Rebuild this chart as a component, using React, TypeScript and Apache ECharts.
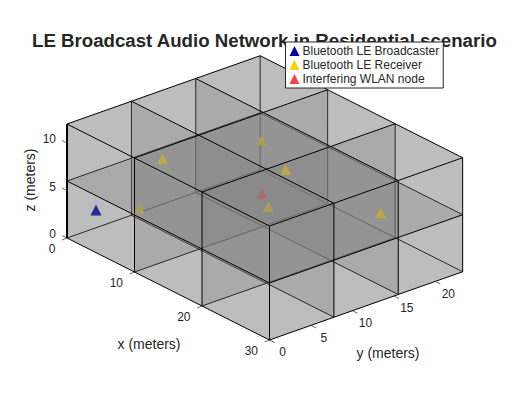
import React, { useEffect, useRef } from "react";
import * as echarts from "echarts";

const titleText = "LE Broadcast Audio Network in Residential scenario";
const legendNames = ["Bluetooth LE Broadcaster", "Bluetooth LE Receiver", "Interfering WLAN node"];
// building grid, metres
const xWalls = [0, 10, 20, 30];
const yWalls = [0, 7.77, 15.53, 23.3];
const zFloors = [0, 6, 12];
const xTicks = [0, 10, 20, 30];
const yTicks = [0, 5, 10, 15, 20];
const zTicks = [0, 5, 10];
// nodes [x, y, z], metres
const broadcasters = [[2, 1.87, 3.09]];
const receivers = [
  [5.24, 7.28, 8],
  [4.3, 5.26, 3],
  [8.1, 16.9, 8],
  [14.6, 14.5, 8],
  [18.4, 9.3, 7],
  [26.3, 16.4, 7],
];
const wlanNodes = [[17.3, 9.44, 8]];

const BLUE = [0, 0, 170];
const YELLOW = [255, 208, 0];
const RED = [255, 64, 64];
const FACE_GRAY = 130;
const FACE_ALPHA = 0.31;

type P3 = number[];
const project = (p: P3) => [
  67 + 6.75 * p[0] + 8.29 * p[1],
  238 + 3.4 * p[0] - 2.93 * p[1] - 9.5 * p[2],
];

// faces in back-to-front order
function buildFaces(): P3[][] {
  const seen = new Set<string>();
  const out: P3[][] = [];
  const add = (f: P3[]) => {
    const k = JSON.stringify(f);
    if (!seen.has(k)) {
      seen.add(k);
      out.push(f);
    }
  };
  for (let i = 0; i < 3; i++) {
    for (let j = 2; j >= 0; j--) {
      for (let k = 0; k < 2; k++) {
        const x0 = xWalls[i], x1 = xWalls[i + 1];
        const y0 = yWalls[j], y1 = yWalls[j + 1];
        const z0 = zFloors[k], z1 = zFloors[k + 1];
        const xFace = (x: number) => [[x, y0, z0], [x, y1, z0], [x, y1, z1], [x, y0, z1]];
        const yFace = (y: number) => [[x0, y, z0], [x1, y, z0], [x1, y, z1], [x0, y, z1]];
        const zFace = (z: number) => [[x0, y0, z], [x1, y0, z], [x1, y1, z], [x0, y1, z]];
        add(xFace(x0));
        add(yFace(y1));
        add(zFace(z0));
        add(xFace(x1));
        add(yFace(y0));
        add(zFace(z1));
      }
    }
  }
  return out;
}

// only edges on the building's outer shell are inked, once, with the last face holding them
const onShell = (a: P3, b: P3) => {
  const lims = [
    [xWalls[0], xWalls[3]],
    [yWalls[0], yWalls[3]],
    [zFloors[0], zFloors[2]],
  ];
  return lims.some(
    (l, ax) => a[ax] === b[ax] && (a[ax] === l[0] || a[ax] === l[1])
  );
};
function buildEdges(faces: P3[][]): P3[][][] {
  const last = new Map<string, number>();
  const key = (a: P3, b: P3) => {
    const s = [JSON.stringify(a), JSON.stringify(b)].sort();
    return s.join("|");
  };
  faces.forEach((f, i) => {
    f.forEach((p, n) => last.set(key(p, f[(n + 1) % 4]), i));
  });
  return faces.map((f, i) => {
    const own: P3[][] = [];
    f.forEach((p, n) => {
      const q = f[(n + 1) % 4];
      if (last.get(key(p, q)) === i && onShell(p, q)) own.push([p, q]);
    });
    return own;
  });
}

// how many translucent planes lie between a node and the viewer
const VIEW = [1, -0.814, 0.609];
function layersInFront(p: P3) {
  let n = 0;
  const tOut = Math.min(
    (30 - p[0]) / VIEW[0],
    (0 - p[1]) / VIEW[1],
    (12 - p[2]) / VIEW[2]
  );
  const count = (walls: number[], axis: number) => {
    walls.forEach((w) => {
      const t = (w - p[axis]) / VIEW[axis];
      if (t > 0 && t <= tOut + 1e-6) n++;
    });
  };
  count(xWalls, 0);
  count(yWalls, 1);
  count(zFloors, 2);
  return n;
}
function tint(c: number[], p: P3) {
  const keep = Math.pow(1 - FACE_ALPHA, layersInFront(p));
  const m = c.map((v) => Math.round(FACE_GRAY + (v - FACE_GRAY) * keep));
  return `rgb(${m[0]},${m[1]},${m[2]})`;
}

const toRgb = (c: number[]) => `rgb(${c[0]},${c[1]},${c[2]})`;

function nodeSeries(name: string, pts: number[][], color: number[]) {
  return {
    type: "scatter",
    name,
    z: 3,
    symbol: "triangle",
    symbolSize: [11, 11],
    itemStyle: { color: toRgb(color), opacity: 1 },
    silent: true,
    data: pts.map((p) => ({
      value: project(p),
      itemStyle: { color: tint(color, p) },
    })),
  };
}

type Tick = { axis: string; v: number };
const ticks: Tick[] = [
  ...xTicks.map((v) => ({ axis: "x", v })),
  ...yTicks.map((v) => ({ axis: "y", v })),
  ...zTicks.map((v) => ({ axis: "z", v })),
];
const axisTitles = [
  { text: "x (meters)", px: 149, py: 344, rot: 0 },
  { text: "y (meters)", px: 388, py: 353, rot: 0 },
  { text: "z (meters)", px: 30, py: 180, rot: Math.PI / 2 },
];

export default function App() {
  const ref = useRef<HTMLDivElement>(null);
  useEffect(() => {
    const chart = echarts.init(ref.current!, undefined, { renderer: "svg" });
    const faces = buildFaces();
    const edges = buildEdges(faces);
    const INK = "#262626";
    chart.setOption({
      animation: false,
      backgroundColor: "#fff",
      title: {
        text: titleText,
        left: 32,
        top: 31,
        z: 1,
        padding: 0,
        textStyle: {
          fontFamily: "Liberation Sans",
          fontSize: 18.67,
          fontWeight: "bold",
          color: INK,
        },
      },
      legend: {
        data: legendNames,
        left: 285.5,
        top: 42,
        orient: "vertical",
        z: 10,
        padding: [2, 4, 2, 4],
        itemGap: 0,
        itemWidth: 10,
        itemHeight: 10,
        icon: "triangle",
        backgroundColor: "#fff",
        borderColor: INK,
        borderWidth: 1,
        borderRadius: 0,
        selectedMode: false,
        textStyle: {
          fontFamily: "Liberation Sans",
          fontSize: 12,
          color: INK,
          lineHeight: 14,
          padding: [0, 0, 0, -2],
        },
      },
      grid: { left: 0, right: 0, top: 0, bottom: 0 },
      xAxis: { type: "value", min: 0, max: 512, show: false },
      yAxis: { type: "value", min: 0, max: 410, inverse: true, show: false },
      series: [
        {
          type: "custom",
          name: "building",
          coordinateSystem: "cartesian2d",
          z: 2,
          silent: true,
          data: faces.map((_, i) => [i, 0]),
          renderItem: (_: any, api: any) => {
            const i = api.value(0);
            const poly = {
              type: "polygon",
              shape: { points: faces[i].map((p) => api.coord(project(p))) },
              style: {
                fill: `rgba(${FACE_GRAY},${FACE_GRAY},${FACE_GRAY},${FACE_ALPHA})`,
                stroke: "none",
              },
            };
            const lines = edges[i].map(([a, b]) => {
              const pa = api.coord(project(a));
              const pb = api.coord(project(b));
              return {
                type: "line",
                shape: { x1: pa[0], y1: pa[1], x2: pb[0], y2: pb[1] },
                style: { stroke: "#000", lineWidth: 1 },
              };
            });
            return { type: "group", children: [poly, ...lines] };
          },
        },
        {
          type: "custom",
          name: "z axis",
          coordinateSystem: "cartesian2d",
          z: 2.5,
          silent: true,
          data: [[0, 0]],
          renderItem: (_: any, api: any) => {
            const a = api.coord(project([0, 0, zFloors[0]]));
            const b = api.coord(project([0, 0, zFloors[2]]));
            return {
              type: "line",
              shape: { x1: a[0], y1: a[1], x2: b[0], y2: b[1] },
              style: { stroke: "#000", lineWidth: 2 },
            };
          },
        },
        {
          type: "custom",
          name: "axes",
          coordinateSystem: "cartesian2d",
          z: 2.5,
          silent: true,
          data: ticks.map((_, i) => [i, 0]),
          renderItem: (_: any, api: any) => {
            const t = ticks[api.value(0)];
            let base: P3, d: number[], lx: number, ly: number, align: string;
            if (t.axis === "x") {
              base = [t.v, 0, 0];
              d = [-5, 2];
              lx = -11.5;
              ly = 11;
              align = "right";
            } else if (t.axis === "y") {
              base = [30, t.v, 0];
              d = [5, 2.5];
              lx = 13;
              ly = 12.3;
              align = "center";
            } else {
              base = [0, 0, t.v];
              d = [-5, -2.5];
              lx = -11;
              ly = -4;
              align = "right";
            }
            const [bx, by] = project(base);
            const a = api.coord([bx, by]);
            return {
              type: "group",
              children: [
                {
                  type: "line",
                  shape: { x1: a[0], y1: a[1], x2: a[0] + d[0], y2: a[1] + d[1] },
                  style: { stroke: INK, lineWidth: 0.7 },
                },
                {
                  type: "text",
                  x: a[0] + lx,
                  y: a[1] + ly,
                  style: {
                    text: String(t.v),
                    fill: INK,
                    font: "12px 'Liberation Sans'",
                    align,
                    verticalAlign: "middle",
                  },
                },
              ],
            };
          },
        },
        {
          type: "custom",
          name: "axis titles",
          coordinateSystem: "cartesian2d",
          z: 2.5,
          silent: true,
          data: axisTitles.map((_, i) => [i, 0]),
          renderItem: (_: any, api: any) => {
            const t = axisTitles[api.value(0)];
            const a = api.coord([t.px, t.py]);
            return {
              type: "text",
              x: a[0],
              y: a[1],
              rotation: t.rot,
              style: {
                text: t.text,
                fill: INK,
                font: "14px 'Liberation Sans'",
                align: "center",
                verticalAlign: "middle",
              },
            };
          },
        },
        nodeSeries(legendNames[0], broadcasters, BLUE),
        nodeSeries(legendNames[1], receivers, YELLOW),
        nodeSeries(legendNames[2], wlanNodes, RED),
      ],
    });
    return () => chart.dispose();
  }, []);
  return (
    <div
      ref={ref}
      style={{ position: "fixed", left: 0, top: 0, width: 512, height: 410 }}
    />
  );
}
